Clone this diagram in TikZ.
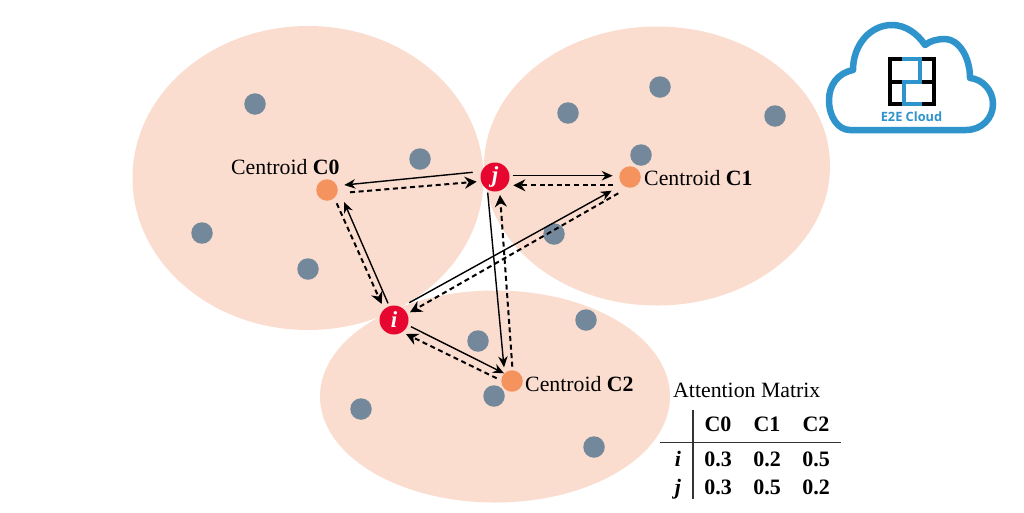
\documentclass[tikz,border=0pt]{standalone}
\usepackage{fontspec}
\setmainfont{Liberation Serif}
\newfontfamily\logofont{Open Sans}
\usetikzlibrary{arrows.meta}
\definecolor{blob}{HTML}{FBDDD0}
\definecolor{dotc}{HTML}{74889C}
\definecolor{centc}{HTML}{F5935F}
\definecolor{redc}{HTML}{E6062F}
\definecolor{logoblue}{HTML}{2E94CB}
\tikzset{
  blobstyle/.style={fill=blob,draw=none},
  pt/.style={circle,fill=dotc,minimum size=21.5pt,inner sep=0pt},
  centroid/.style={circle,fill=centc,minimum size=21.5pt,inner sep=0pt},
  sample/.style={circle,fill=redc,minimum size=29pt,inner sep=0pt,text=white,font=\fontsize{23}{23}\selectfont\bfseries\itshape},
  lab/.style={inner sep=0pt,anchor=base west,font=\fontsize{21.8}{22}\selectfont},
  cell/.style={inner sep=0pt,anchor=base,font=\fontsize{22}{22}\selectfont\bfseries},
  solidarrow/.style={line width=1.4pt,-{Stealth[length=11pt,width=9.5pt]}},
  dasharrow/.style={line width=2pt,dash pattern=on 5pt off 3.6pt,-{Stealth[length=12pt,width=12pt]}},
  rulel/.style={line width=1.1pt,draw=black!80},
  logoline/.style={line width=4pt,line cap=butt},
}
\begin{document}
\begin{tikzpicture}[x=1pt,y=-1pt]
\useasboundingbox (0,0) rectangle (1024,512);
\fill[white] (0,0) rectangle (1024,512);
\fill[blobstyle] (308,178) ellipse [x radius=175.5,y radius=152];
\fill[blobstyle] (657,166) ellipse [x radius=173,y radius=139.5];
\fill[blobstyle] (495,396.5) ellipse [x radius=175,y radius=106];
\foreach \n/\x/\y in {a/255/104,b/420/159,c/202/233,d/308/269,e/568/113,f/660/87,g/775/116,h/641/155,k/554/234,l/586/320,m/478/341,n/494/396,o/361/409,p/594/447}
  \node[pt] (dot\n) at (\x,\y) {};
\node[centroid] (c0) at (327,190) {};
\node[centroid] (c1) at (630,177) {};
\node[centroid] (c2) at (512,381) {};
\node[sample] (i) at (394,320) {i};
\node[sample] (j) at (495,177) {j};
\node[lab] (l0) at (231,174.5) {Centroid \textbf{C0}};
\node[lab] (l1) at (644,185) {Centroid \textbf{C1}};
\node[lab] (l2) at (525,391.5) {Centroid \textbf{C2}};
% solid
\draw[solidarrow] ([shift={(-22.3,-4.7)}]j.center) -- ([shift={(17.3,-5)}]c0.center);
\draw[solidarrow] ([shift={(17.7,-1.3)}]j.center) -- ([shift={(-17.3,-1.3)}]c1.center);
\draw[solidarrow] ([shift={(-6,-16.7)}]i.center) -- ([shift={(17,12)}]c0.center);
\draw[solidarrow] ([shift={(15.3,-17.3)}]i.center) -- ([shift={(-18.3,13.7)}]c1.center);
\draw[solidarrow] ([shift={(-7.3,15.7)}]j.center) -- ([shift={(-8,-13.7)}]c2.center);
\draw[solidarrow] ([shift={(17,6.7)}]i.center) -- ([shift={(-8,-7.7)}]c2.center);
% dashed
\draw[dasharrow] ([shift={(23,2.3)}]c0.center) -- ([shift={(-18.3,4.7)}]j.center);
\draw[dasharrow] ([shift={(-16.7,8.3)}]c1.center) -- ([shift={(18.3,8.3)}]j.center);
\draw[dasharrow] ([shift={(9.7,13.3)}]c0.center) -- ([shift={(-12.3,-16)}]i.center);
\draw[dasharrow] ([shift={(-11.7,16.3)}]c1.center) -- ([shift={(16,-7.7)}]i.center);
\draw[dasharrow] ([shift={(0.3,-14.3)}]c2.center) -- ([shift={(5,18)}]j.center);
\draw[dasharrow] ([shift={(-15.3,-2.7)}]c2.center) -- ([shift={(12,14)}]i.center);
% table
\node[lab] (title) at (673,397) {Attention Matrix};
\coordinate (vt) at (693,410);
\coordinate (vb) at (693,499);
\coordinate (hl) at (660,442.5);
\coordinate (hr) at (841,442.5);
\draw[rulel] (vt) -- (vb);
\draw[rulel] (hl) -- (hr);
\node[cell] (h0) at (718,431.5) {C0};
\node[cell] (h1) at (767,431.5) {C1};
\node[cell] (h2) at (816,431.5) {C2};
\node[cell] (ri) at (678,466.5) {\textit{i}};
\node[cell] (rj) at (678,494.5) {\textit{j}};
\node[cell] (a0) at (718,466.5) {0.3};
\node[cell] (a1) at (767,466.5) {0.2};
\node[cell] (a2) at (816,466.5) {0.5};
\node[cell] (b0) at (718,494.5) {0.3};
\node[cell] (b1) at (767,494.5) {0.5};
\node[cell] (b2) at (816,494.5) {0.2};
% logo
\draw[logoblue,line width=6.5pt,line join=round,fill=white]
  (850,130) -- (966,130)
  .. controls (982,130) and (993,118) .. (993,104)
  .. controls (993,90) and (982,79) .. (970,78)
  .. controls (970,56) and (958,39) .. (945,39)
  .. controls (937,39) and (930,41) .. (925,45)
  .. controls (917,33) and (905,25) .. (892,25)
  .. controls (870,25) and (853,45) .. (853,70)
  .. controls (838,73) and (829,85) .. (829,100)
  .. controls (829,117) and (838,130) .. (850,130) -- cycle;
\draw[logoline,black] (902,59) -- (890,59) -- (890,104) -- (902,104);
\draw[logoline,black] (890,82) -- (902,82);
\draw[logoline,black] (922,59) -- (933.5,59) -- (933.5,104) -- (922,104);
\draw[logoline,black] (922,82) -- (933.5,82);
\draw[logoline,logoblue] (902,59) -- (920,59) -- (920,82) -- (904,82) -- (904,104) -- (922,104);
\node[inner sep=0pt,text=logoblue,font=\logofont\bfseries\fontsize{12.8}{13}\selectfont] (logotext) at (911.5,116.5) {E2E Cloud};
\end{tikzpicture}
\end{document}
